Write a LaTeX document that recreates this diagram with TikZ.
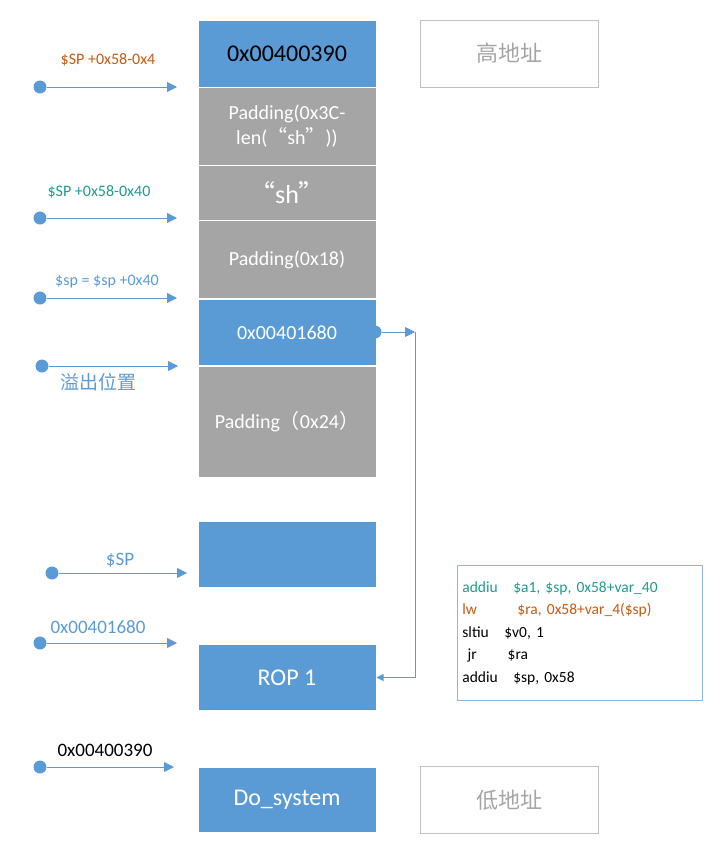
\documentclass[tikz,border=0pt]{standalone}
\usepackage{fontspec}
\setmainfont{Carlito}
\newfontfamily\cjk{Noto Sans CJK SC}
\usetikzlibrary{arrows.meta}
\definecolor{cellblue}{HTML}{5B9BD5}
\definecolor{cellgrey}{HTML}{A5A5A5}
\definecolor{addrorange}{HTML}{C55A11}
\definecolor{addrteal}{HTML}{1F9A8F}
\tikzset{
  cell/.style={draw=white, line width=1pt, minimum width=178pt, inner sep=0pt, font=\fontsize{20}{25}\selectfont, text=white, align=center},
  bluecell/.style={cell, fill=cellblue},
  greycell/.style={cell, fill=cellgrey},
  tag/.style={draw=cellgrey!70, text=cellgrey, minimum width=178pt, minimum height=67pt, font=\cjk\fontsize{22}{26}\selectfont},
  ptr/.style={draw=cellblue, line width=0.8pt, -{Triangle[length=10pt,width=10pt]}},
  dot/.style={circle, fill=cellblue, inner sep=0pt, minimum size=13pt}
}
\begin{document}
\begin{tikzpicture}[x=1pt,y=-1pt]
  \useasboundingbox (0,0) rectangle (719,847);

  % stack cells
  \node[bluecell, minimum height=67pt, text=black, font=\fontsize{24}{28}\selectfont] (ret) at (287,53.5) {0x00400390};
  \node[greycell, minimum height=78pt] (pad1) at (287,126.5) {Padding(0x3C-\\len({\cjk “}sh{\cjk ”}))};
  \node[greycell, minimum height=55pt, font=\fontsize{26}{28}\selectfont] (sh) at (287,193) {{\cjk “}sh{\cjk ”}};
  \node[greycell, minimum height=78pt] (pad2) at (287,259.5) {Padding(0x18)};
  \node[bluecell, minimum height=66pt] (gadget) at (287,332.5) {0x00401680};
  \node[greycell, minimum height=111pt] (pad3) at (287,421.5) {Padding{\cjk （}0x24{\cjk ）}};
  \node[bluecell, minimum height=66pt] (empty) at (287,554.5) {};
  \node[bluecell, minimum height=66pt, font=\fontsize{24}{28}\selectfont] (rop) at (287,677.5) {ROP 1};
  \node[bluecell, minimum height=65pt, font=\fontsize{24}{28}\selectfont] (dosys) at (287,800) {Do\_system};

  \node[tag] (high) at (509,53.5) {高地址};
  \node[tag] (low) at (509,800) {低地址};

  % pointers
  \node[dot] (p1) at (40,87) {};
  \coordinate (q1) at (177,87);
  \draw[ptr] (p1) -- (q1);
  \node[text=addrorange, font=\fontsize{16}{19}\selectfont] (l1) at (108,60) {\$SP +0x58-0x4};

  \node[dot] (p2) at (40,218) {};
  \coordinate (q2) at (177,218);
  \draw[ptr] (p2) -- (q2);
  \node[text=addrteal, font=\fontsize{16}{19}\selectfont] (l2) at (99,192) {\$SP +0x58-0x40};

  \node[dot] (p3) at (40,298) {};
  \coordinate (q3) at (177,298);
  \draw[ptr] (p3) -- (q3);
  \node[text=cellblue, font=\fontsize{16}{19}\selectfont] (l3) at (107,282) {\$sp = \$sp +0x40};

  \node[dot] (p4) at (42,366) {};
  \coordinate (q4) at (178,366);
  \draw[ptr] (p4) -- (q4);
  \node[text=cellblue, font=\cjk\fontsize{19}{22}\selectfont] (l4) at (98,382) {溢出位置};

  \node[dot] (p5) at (52,573) {};
  \coordinate (q5) at (187,573);
  \draw[ptr] (p5) -- (q5);
  \node[text=cellblue, font=\fontsize{19}{22}\selectfont] (l5) at (120,560) {\$SP};

  \node[dot] (p6) at (40,643) {};
  \coordinate (q6) at (177,643);
  \draw[ptr] (p6) -- (q6);
  \node[text=cellblue, font=\fontsize{19}{22}\selectfont] (l6) at (98,627) {0x00401680};

  \node[dot] (p7) at (40,767) {};
  \coordinate (q7) at (174,767);
  \draw[ptr] (p7) -- (q7);
  \node[font=\fontsize{19}{22}\selectfont] (l7) at (105,750) {0x00400390};

  % jump from gadget address to ROP 1
  \node[dot] (g) at (375,332) {};
  \coordinate (gr) at (415,332);
  \draw[ptr] (g) -- (gr);
  \draw[cellblue, line width=0.8pt, -{Triangle[length=7pt,width=7pt]}] (gr) |- (rop.east);

  % gadget code
  \node[draw=cellblue!70, line width=0.8pt, minimum width=245pt, minimum height=135pt, inner sep=5pt, align=left, anchor=north west, text width=235pt, font=\fontsize{15.5}{22.5}\selectfont] (code) at (457,565)
    {\textcolor{addrteal}{addiu\quad \$a1, \$sp, 0x58+var\_40}\\
     \textcolor{addrorange}{lw\qquad\; \$ra, 0x58+var\_4(\$sp)}\\
     sltiu\quad \$v0, 1\\
     \ jr\qquad \$ra\\
     addiu\quad \$sp, 0x58};
\end{tikzpicture}
\end{document}
